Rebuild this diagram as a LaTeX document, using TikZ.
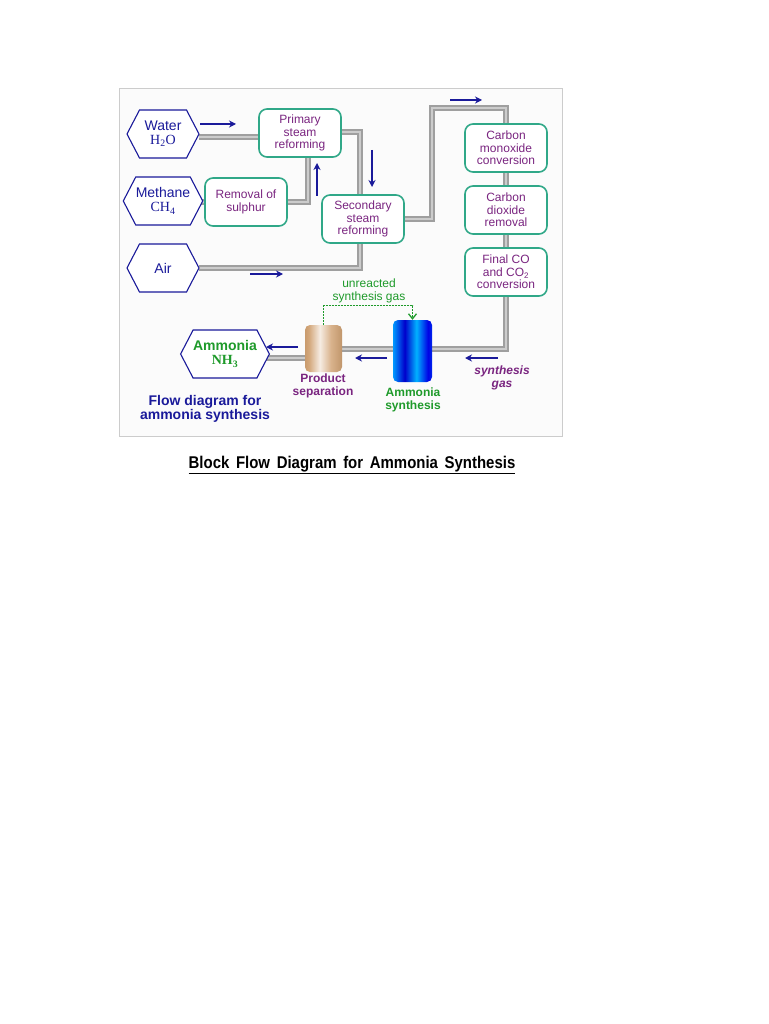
\documentclass[tikz,border=0pt]{standalone}
\usepackage{fontspec}
\setmainfont{Liberation Sans}
\usetikzlibrary{shapes.symbols,arrows.meta}
\definecolor{navy}{HTML}{1A1A9A}
\definecolor{purp}{HTML}{7A2580}
\definecolor{grn}{HTML}{1E9A2A}
\definecolor{teal}{HTML}{30A888}
\pgfdeclarehorizontalshading{copper}{100bp}{color(0bp)=(brown!80!black); color(30bp)=(brown!70!white); color(45bp)=(white!85!brown); color(60bp)=(brown!60!white); color(100bp)=(brown!80!black)}
\pgfdeclarehorizontalshading{bluec}{100bp}{color(0bp)=(blue!70!black); color(25bp)=(cyan!60!blue); color(40bp)=(blue!80!black); color(55bp)=(cyan!70!blue); color(70bp)=(blue!90!black); color(85bp)=(cyan!50!blue); color(100bp)=(blue!70!black)}
\tikzset{
 hex/.style={shape=signal, signal to=west and east, signal pointer angle=125, draw=navy, line width=1.1pt, fill=white, minimum width=72pt, minimum height=48pt, inner sep=0pt, align=center, font=\fontsize{14}{15}\selectfont, text=navy},
 box/.style={draw=teal, line width=1.6pt, rounded corners=8pt, fill=white, minimum width=82pt, minimum height=48pt, align=center, font=\fontsize{12}{12.5}\selectfont, text=purp, inner sep=1pt},
 pipe/.style={draw=gray!75, double=gray!40, double distance=2.4pt, line width=1.5pt},
 arr/.style={draw=navy, line width=1.6pt, -{Stealth[length=7pt,width=7pt]}},
 lbl/.style={font=\bfseries\fontsize{12}{13}\selectfont, align=center}
}
\begin{document}
\begin{tikzpicture}[x=1pt,y=-1pt]
\useasboundingbox (0,0) rectangle (768,1024);
\fill[white] (0,0) rectangle (768,1024);
\draw[gray!40, line width=1pt, fill=gray!3] (119,89) rectangle (562,436);
% pipes first
\coordinate (c1) at (360,132); \coordinate (c2) at (308,202);
\coordinate (c3) at (360,268); \coordinate (c4) at (432,219);
\coordinate (c5) at (432,108); \coordinate (c6) at (506,108);
\coordinate (c7) at (506,349);
\draw[pipe] (199,137) -- (259,137);
\draw[pipe] (341,132) -- (c1) -- (360,196);
\draw[pipe] (199,202) -- (c2) -- (308,158);
\draw[pipe] (199,268) -- (c3) -- (360,243);
\draw[pipe] (404,219) -- (c4) -- (c5) -- (c6) -- (506,125);
\draw[pipe] (506,172) -- (506,186) (506,234) -- (506,248);
\draw[pipe] (506,296) -- (c7) -- (432,349);
\draw[pipe] (393,349) -- (342,349);
\draw[pipe] (305,358) -- (263,358);
% hexagons
\node[hex] (water) at (163,134) {Water\\[-1pt]{\fontspec{Liberation Serif}H\textsubscript{2}O}};
\node[hex] (meth) at (163,201) {Methane\\[-1pt]{\fontspec{Liberation Serif}CH\textsubscript{4}}};
\node[hex] (air) at (163,268) {Air};
\node[hex, text=grn, font=\bfseries\fontsize{14}{15}\selectfont] (nh3) at (225,354) {Ammonia\\[-1pt]{\fontspec{Liberation Serif}NH\textsubscript{3}}};
% boxes
\node[box] (prim) at (300,133) {Primary\\steam\\reforming};
\node[box] (sulf) at (246,202) {Removal of\\sulphur};
\node[box] (sec) at (363,219) {Secondary\\steam\\reforming};
\node[box] (co) at (506,148) {Carbon\\monoxide\\conversion};
\node[box] (co2) at (506,210) {Carbon\\dioxide\\removal};
\node[box] (fin) at (506,272) {Final CO\\and CO\textsubscript{2}\\conversion};
% vessels
\node[rounded corners=5pt, shading=copper, minimum width=37pt, minimum height=47pt, inner sep=0pt] (sep) at (323.5,348.5) {};
\node[rounded corners=5pt, shading=bluec, minimum width=39pt, minimum height=62pt, inner sep=0pt] (syn) at (412.5,351) {};
\draw[grn, dashed, dash pattern=on 2pt off 1pt, line width=1.3pt, -{Straight Barb[length=5pt,width=8pt]}] (sep.north) -- ++(0,-19) -| (syn.north);
\node[font=\fontsize{12}{12.5}\selectfont, text=grn, align=center] (unr) at (369,291) {unreacted\\synthesis gas};
% arrows
\coordinate (a1) at (200,124); \coordinate (a2) at (236,124);
\draw[arr] (a1) -- (a2);
\coordinate (a3) at (317,196); \coordinate (a4) at (317,163);
\draw[arr] (a3) -- (a4);
\coordinate (a5) at (372,150); \coordinate (a6) at (372,187);
\draw[arr] (a5) -- (a6);
\coordinate (a7) at (250,274); \coordinate (a8) at (283,274);
\draw[arr] (a7) -- (a8);
\coordinate (a9) at (450,100); \coordinate (a10) at (482,100);
\draw[arr] (a9) -- (a10);
\coordinate (b1) at (298,347); \coordinate (b2) at (266,347);
\draw[arr] (b1) -- (b2);
\coordinate (b3) at (387,358); \coordinate (b4) at (355,358);
\draw[arr] (b3) -- (b4);
\coordinate (b5) at (498,358); \coordinate (b6) at (465,358);
\draw[arr] (b5) -- (b6);
% labels
\node[lbl, text=purp, font=\bfseries\itshape\fontsize{12}{13}\selectfont] (sg) at (502,378) {synthesis\\gas};
\node[lbl, text=purp] (ps) at (323,386) {Product\\separation};
\node[lbl, text=grn] (as) at (413,400) {Ammonia\\synthesis};
\node[lbl, text=navy, font=\bfseries\fontsize{14}{14.5}\selectfont] (fd) at (205,409) {Flow diagram for\\ammonia synthesis};
\node[font=\bfseries\fontsize{17}{18}\selectfont, xscale=0.88, inner sep=0pt] (cap) at (352,465) {\underline{Block\, Flow\, Diagram\, for\, Ammonia\, Synthesis}};
\end{tikzpicture}
\end{document}
